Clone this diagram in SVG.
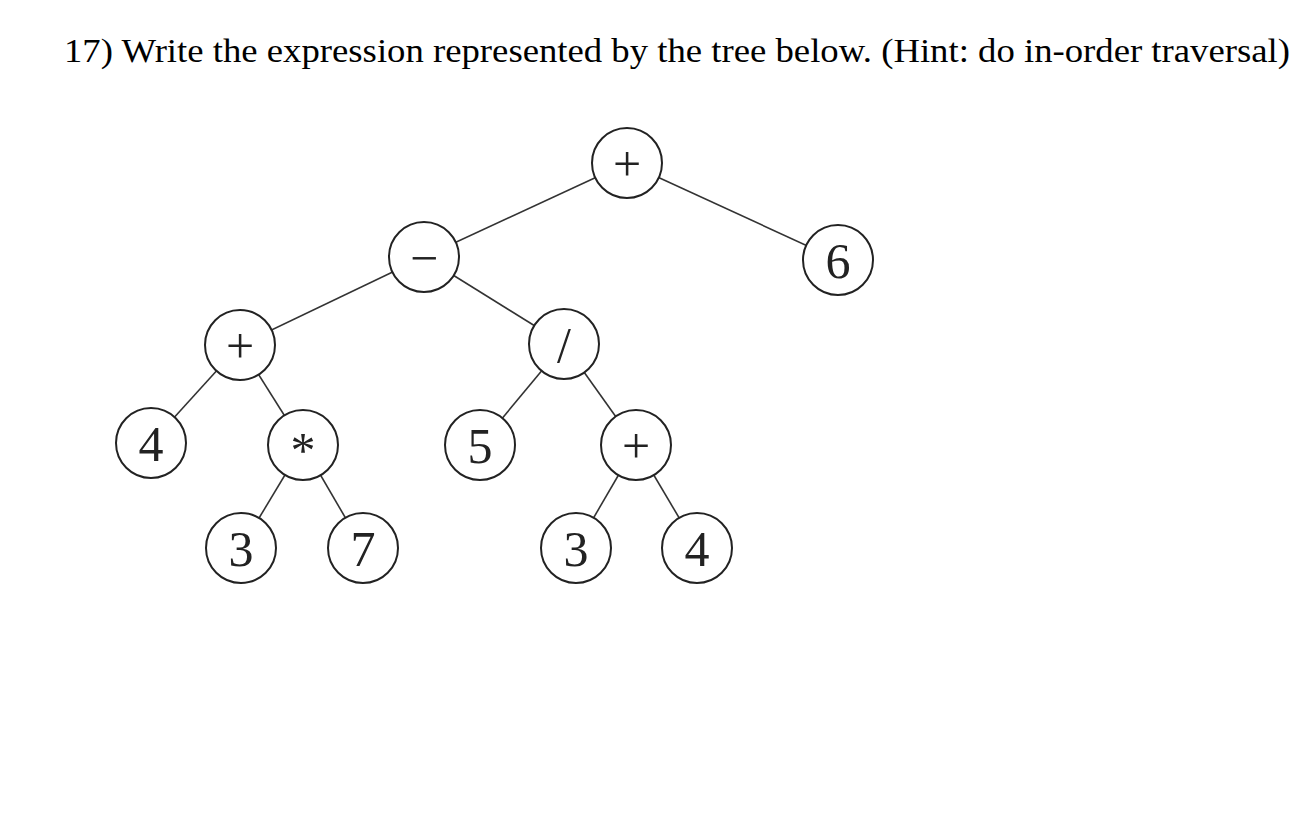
<svg xmlns="http://www.w3.org/2000/svg" width="1308" height="820" viewBox="0 0 1308 820">
<style>
.n circle{fill:#fff;stroke:#222;stroke-width:2}
.n text{font-family:"Liberation Serif",serif;font-size:50px;text-anchor:middle;fill:#222}
#edges line{stroke:#333;stroke-width:1.6}
.t{font-family:"Liberation Serif",serif;font-size:34px;fill:#000}
</style>
<rect width="1308" height="820" fill="#fff"/>
<text class="t" x="64" y="62" textLength="1226" lengthAdjust="spacingAndGlyphs">17) Write the expression represented by the tree below. (Hint: do in-order traversal)</text>
<g id="edges">
<line x1="627" y1="163" x2="424" y2="257"/>
<line x1="627" y1="163" x2="838" y2="260"/>
<line x1="424" y1="257" x2="240" y2="345"/>
<line x1="424" y1="257" x2="564" y2="344"/>
<line x1="240" y1="345" x2="151" y2="443"/>
<line x1="240" y1="345" x2="303" y2="445"/>
<line x1="564" y1="344" x2="480" y2="445"/>
<line x1="564" y1="344" x2="636" y2="445"/>
<line x1="303" y1="445" x2="241" y2="548"/>
<line x1="303" y1="445" x2="363" y2="548"/>
<line x1="636" y1="445" x2="576" y2="548"/>
<line x1="636" y1="445" x2="697" y2="548"/>
</g>
<g id="n1" class="n"><circle cx="627" cy="163" r="35"/><text x="627" y="181">+</text></g>
<g id="n2" class="n"><circle cx="424" cy="257" r="35"/><text x="424" y="275">−</text></g>
<g id="n3" class="n"><circle cx="838" cy="260" r="35"/><text x="838" y="278">6</text></g>
<g id="n4" class="n"><circle cx="240" cy="345" r="35"/><text x="240" y="363">+</text></g>
<g id="n5" class="n"><circle cx="564" cy="344" r="35"/><text x="564" y="362">/</text></g>
<g id="n6" class="n"><circle cx="151" cy="443" r="35"/><text x="151" y="461">4</text></g>
<g id="n7" class="n"><circle cx="303" cy="445" r="35"/><text x="303" y="467">*</text></g>
<g id="n8" class="n"><circle cx="480" cy="445" r="35"/><text x="480" y="463">5</text></g>
<g id="n9" class="n"><circle cx="636" cy="445" r="35"/><text x="636" y="463">+</text></g>
<g id="n10" class="n"><circle cx="241" cy="548" r="35"/><text x="241" y="566">3</text></g>
<g id="n11" class="n"><circle cx="363" cy="548" r="35"/><text x="363" y="566">7</text></g>
<g id="n12" class="n"><circle cx="576" cy="548" r="35"/><text x="576" y="566">3</text></g>
<g id="n13" class="n"><circle cx="697" cy="548" r="35"/><text x="697" y="566">4</text></g>
</svg>
